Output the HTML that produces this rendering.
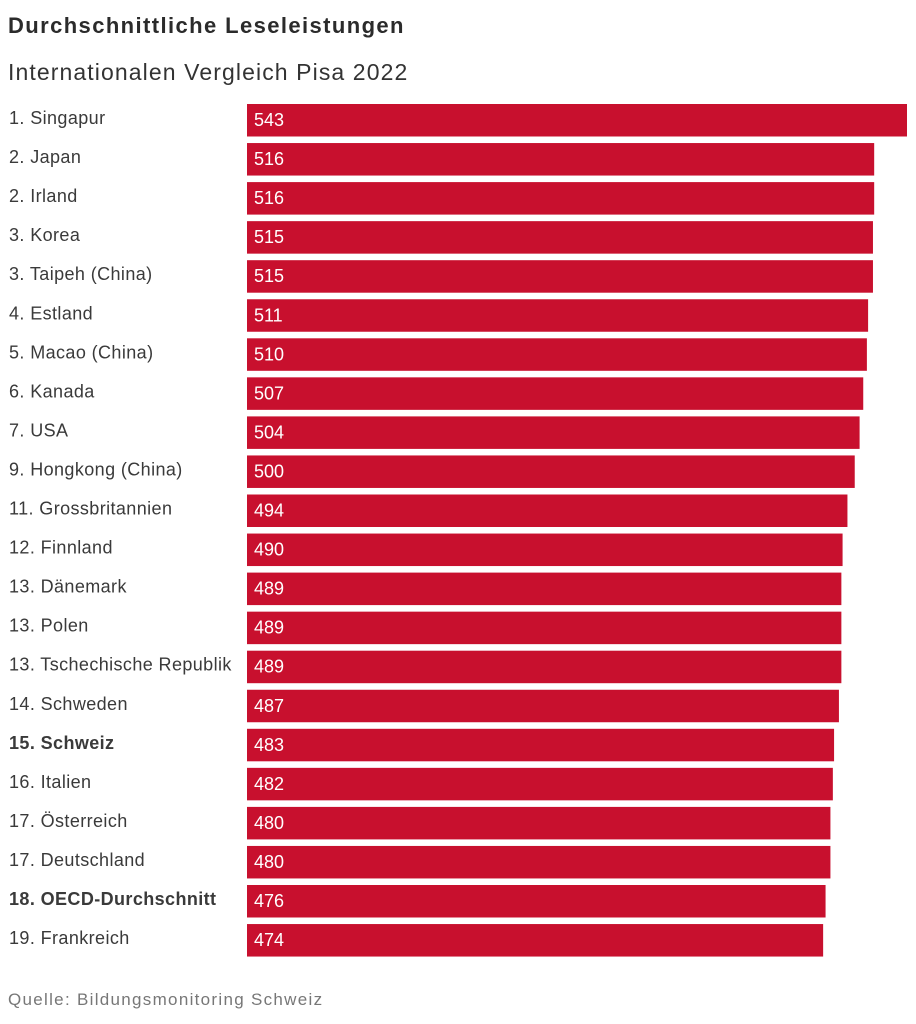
<!DOCTYPE html>
<html><head><meta charset="utf-8"><style>
body{margin:0;background:#fff;font-family:"Liberation Sans",sans-serif;}
#wrap{position:relative;width:916px;height:1024px;overflow:hidden}
.t{position:absolute;left:8px;color:#2b2b2b;white-space:nowrap}
</style></head><body><div id="wrap">
<div class="t" style="top:13px;font-size:22px;font-weight:bold;letter-spacing:1.4px">Durchschnittliche Leseleistungen</div>
<div class="t" style="top:59px;font-size:23px;color:#333;letter-spacing:1.1px">Internationalen Vergleich Pisa 2022</div>
<svg id="svg" width="916" height="1024" style="position:absolute;left:0;top:0"></svg>
<div class="t" style="top:990px;font-size:17px;color:#777;letter-spacing:1.3px">Quelle: Bildungsmonitoring Schweiz</div>
</div>
<script>
const categories=["1. Singapur","2. Japan","2. Irland","3. Korea","3. Taipeh (China)","4. Estland","5. Macao (China)","6. Kanada","7. USA","9. Hongkong (China)","11. Grossbritannien","12. Finnland","13. Dänemark","13. Polen","13. Tschechische Republik","14. Schweden","15. Schweiz","16. Italien","17. Österreich","17. Deutschland","18. OECD-Durchschnitt","19. Frankreich"];
const values=[543,516,516,515,515,511,510,507,504,500,494,490,489,489,489,487,483,482,480,480,476,474];
const boldRows=["15. Schweiz","18. OECD-Durchschnitt"];
const NS="http://www.w3.org/2000/svg";
const svg=document.getElementById('svg');
const x0=247,xMax=543,wMax=660;
const xs=v=>v/xMax*wMax;
const ys=i=>104+i*39.05;
categories.forEach((c,i)=>{
  const y=ys(i);
  const r=document.createElementNS(NS,'rect');
  r.setAttribute('x',x0);r.setAttribute('y',y);r.setAttribute('width',xs(values[i]));r.setAttribute('height',32.5);r.setAttribute('fill','#c8102e');
  
  
  svg.appendChild(r);
  const v=document.createElementNS(NS,'text');
  v.setAttribute('x',x0+7);v.setAttribute('y',y+22);v.setAttribute('fill','#fff');v.setAttribute('font-size','18');v.setAttribute('font-family','Liberation Sans, sans-serif');
  v.textContent=values[i];
  
  
  svg.appendChild(v);
  const l=document.createElementNS(NS,'text');
  l.setAttribute('x',9);l.setAttribute('y',y+20);l.setAttribute('fill','#3a3a3a');l.setAttribute('font-size','18');l.setAttribute('font-family','Liberation Sans, sans-serif');
  l.setAttribute('letter-spacing','0.4');
  if(boldRows.includes(c))l.setAttribute('font-weight','bold');
  l.textContent=c;
  
  
  svg.appendChild(l);
});
</script></body></html>
